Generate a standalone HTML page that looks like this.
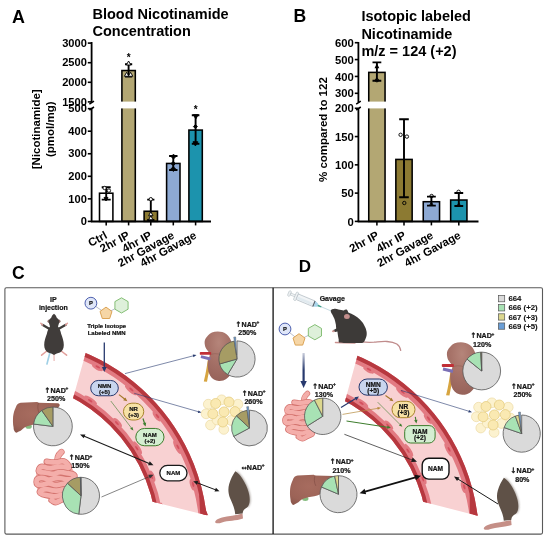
<!DOCTYPE html><html><head><meta charset="utf-8"><title>Figure</title><style>html,body{margin:0;padding:0;background:#fff}svg{display:block}</style></head><body>
<svg width="550" height="541" viewBox="0 0 550 541">
<rect width="550" height="541" fill="#fff"/>
<g id="chartA"><text x="12.0" y="22.7" font-family="Liberation Sans, Arial, sans-serif" font-weight="bold" font-size="17.9">A</text><text x="92.5" y="18.8" font-family="Liberation Sans, Arial, sans-serif" font-weight="bold" font-size="14.5">Blood Nicotinamide</text><text x="92.5" y="36.1" font-family="Liberation Sans, Arial, sans-serif" font-weight="bold" font-size="14.5">Concentration</text><rect x="99.50" y="193.21" width="13.4" height="28.19" fill="#ffffff" stroke="#000" stroke-width="1.55"/><rect x="121.90" y="70.54" width="13.4" height="150.86" fill="#b3a773" stroke="#000" stroke-width="1.55"/><rect x="120.40" y="101.6" width="16.4" height="6.8" fill="#fff"/><rect x="144.10" y="211.25" width="13.4" height="10.15" fill="#8c7a32" stroke="#000" stroke-width="1.55"/><rect x="166.60" y="163.45" width="13.4" height="57.95" fill="#8da9d3" stroke="#000" stroke-width="1.55"/><rect x="188.90" y="130.07" width="13.4" height="91.33" fill="#1c93ad" stroke="#000" stroke-width="1.55"/><path d="M106.2,187.2 V199.6 M101.7,187.2 H110.7 M101.7,199.6 H110.7" stroke="#000" stroke-width="1.9" fill="none"/><path d="M128.6,64.3 V76.6 M125.0,64.3 H132.2 M125.0,76.6 H132.2" stroke="#000" stroke-width="1.9" fill="none"/><path d="M150.8,199.6 V220 M147.20000000000002,199.6 H154.4 M147.20000000000002,220 H154.4" stroke="#000" stroke-width="1.9" fill="none"/><path d="M173.3,156.0 V170.0 M169.10000000000002,156.0 H177.5 M169.10000000000002,170.0 H177.5" stroke="#000" stroke-width="1.9" fill="none"/><path d="M195.6,115.2 V143.8 M191.79999999999998,115.2 H199.4 M191.79999999999998,143.8 H199.4" stroke="#000" stroke-width="1.9" fill="none"/><circle cx="104.6" cy="188.0" r="1.7" fill="#fff" stroke="#000" stroke-width="0.9"/><circle cx="108.9" cy="190.6" r="1.7" fill="#fff" stroke="#000" stroke-width="0.9"/><path d="M106.0,201.0 L108.0,197.4 L104.0,197.4 Z" fill="#000" stroke="#000" stroke-width="0.9"/><path d="M128.6,61.0 L130.79999999999998,64.96000000000001 L126.39999999999999,64.96000000000001 Z" fill="#fff" stroke="#000" stroke-width="0.9"/><path d="M126.6,72.3 L128.79999999999998,76.26 L124.39999999999999,76.26 Z" fill="#fff" stroke="#000" stroke-width="0.9"/><path d="M130.6,72.3 L132.79999999999998,76.26 L128.4,76.26 Z" fill="#fff" stroke="#000" stroke-width="0.9"/><circle cx="150.8" cy="199.2" r="1.7" fill="#fff" stroke="#000" stroke-width="0.9"/><path d="M150.8,211.8 L153.0,215.76 L148.60000000000002,215.76 Z" fill="#fff" stroke="#000" stroke-width="0.9"/><path d="M150.8,215.8 L153.0,219.76 L148.60000000000002,219.76 Z" fill="#fff" stroke="#000" stroke-width="0.9"/><path d="M173.5,154.2 L175.9,156.6 L173.5,159.0 L171.1,156.6 Z" fill="#000" stroke="#000" stroke-width="0.9"/><path d="M173.2,161.4 L175.39999999999998,163.6 L173.2,165.79999999999998 L171.0,163.6 Z" fill="#000" stroke="#000" stroke-width="0.9"/><path d="M173.2,166.6 L175.6,169.0 L173.2,171.4 L170.79999999999998,169.0 Z" fill="#000" stroke="#000" stroke-width="0.9"/><path d="M195.8,119.0 L198.20000000000002,114.67999999999999 L193.4,114.67999999999999 Z" fill="#000" stroke="#000" stroke-width="0.9"/><path d="M195.4,124.6 L197.4,126.6 L195.4,128.6 L193.4,126.6 Z" fill="#000" stroke="#000" stroke-width="0.9"/><path d="M195.4,146.0 L197.8,141.68 L193.0,141.68 Z" fill="#000" stroke="#000" stroke-width="0.9"/><text x="128.8" y="60.5" font-family="Liberation Sans, Arial, sans-serif" font-weight="bold" font-size="10" text-anchor="middle">*</text><text x="195.8" y="113" font-family="Liberation Sans, Arial, sans-serif" font-weight="bold" font-size="10" text-anchor="middle">*</text><path d="M91.6,42 V102.6 M91.6,108.2 V222.1" stroke="#000" stroke-width="1.8" fill="none"/><path d="M89.39999999999999,104.2 L94.0,101.2 M89.39999999999999,110.0 L94.0,107.0" stroke="#000" stroke-width="1.5" fill="none"/><path d="M90.89999999999999,221.4 H211" stroke="#000" stroke-width="2" fill="none"/><path d="M87.8,43.10 H91.6" stroke="#000" stroke-width="1.6"/><text transform="translate(86.9,46.80) scale(1.08,1)" font-family="Liberation Sans, Arial, sans-serif" font-weight="bold" font-size="10.3" text-anchor="end">3000</text><path d="M87.8,62.70 H91.6" stroke="#000" stroke-width="1.6"/><text transform="translate(86.9,66.40) scale(1.08,1)" font-family="Liberation Sans, Arial, sans-serif" font-weight="bold" font-size="10.3" text-anchor="end">2500</text><path d="M87.8,82.30 H91.6" stroke="#000" stroke-width="1.6"/><text transform="translate(86.9,86.00) scale(1.08,1)" font-family="Liberation Sans, Arial, sans-serif" font-weight="bold" font-size="10.3" text-anchor="end">2000</text><path d="M87.8,101.90 H91.6" stroke="#000" stroke-width="1.6"/><text transform="translate(86.9,105.60) scale(1.08,1)" font-family="Liberation Sans, Arial, sans-serif" font-weight="bold" font-size="10.3" text-anchor="end">1500</text><path d="M87.8,108.65 H91.6" stroke="#000" stroke-width="1.6"/><text transform="translate(86.9,112.35) scale(1.08,1)" font-family="Liberation Sans, Arial, sans-serif" font-weight="bold" font-size="10.3" text-anchor="end">500</text><path d="M87.8,131.20 H91.6" stroke="#000" stroke-width="1.6"/><text transform="translate(86.9,134.90) scale(1.08,1)" font-family="Liberation Sans, Arial, sans-serif" font-weight="bold" font-size="10.3" text-anchor="end">400</text><path d="M87.8,153.75 H91.6" stroke="#000" stroke-width="1.6"/><text transform="translate(86.9,157.45) scale(1.08,1)" font-family="Liberation Sans, Arial, sans-serif" font-weight="bold" font-size="10.3" text-anchor="end">300</text><path d="M87.8,176.30 H91.6" stroke="#000" stroke-width="1.6"/><text transform="translate(86.9,180.00) scale(1.08,1)" font-family="Liberation Sans, Arial, sans-serif" font-weight="bold" font-size="10.3" text-anchor="end">200</text><path d="M87.8,198.85 H91.6" stroke="#000" stroke-width="1.6"/><text transform="translate(86.9,202.55) scale(1.08,1)" font-family="Liberation Sans, Arial, sans-serif" font-weight="bold" font-size="10.3" text-anchor="end">100</text><path d="M87.8,221.40 H91.6" stroke="#000" stroke-width="1.6"/><text transform="translate(86.9,225.10) scale(1.08,1)" font-family="Liberation Sans, Arial, sans-serif" font-weight="bold" font-size="10.3" text-anchor="end">0</text><path d="M106.2,221.4 V225.4" stroke="#000" stroke-width="1.55"/><text transform="translate(108.0,237.70000000000002) rotate(-28.5)" font-family="Liberation Sans, Arial, sans-serif" font-weight="bold" font-size="11.4" text-anchor="end">Ctrl</text><path d="M128.6,221.4 V225.4" stroke="#000" stroke-width="1.55"/><text transform="translate(130.4,237.70000000000002) rotate(-28.5)" font-family="Liberation Sans, Arial, sans-serif" font-weight="bold" font-size="11.4" text-anchor="end">2hr IP</text><path d="M150.8,221.4 V225.4" stroke="#000" stroke-width="1.55"/><text transform="translate(152.60000000000002,237.70000000000002) rotate(-28.5)" font-family="Liberation Sans, Arial, sans-serif" font-weight="bold" font-size="11.4" text-anchor="end">4hr IP</text><path d="M173.3,221.4 V225.4" stroke="#000" stroke-width="1.55"/><text transform="translate(175.10000000000002,237.70000000000002) rotate(-28.5)" font-family="Liberation Sans, Arial, sans-serif" font-weight="bold" font-size="11.4" text-anchor="end">2hr Gavage</text><path d="M195.6,221.4 V225.4" stroke="#000" stroke-width="1.55"/><text transform="translate(197.4,237.70000000000002) rotate(-28.5)" font-family="Liberation Sans, Arial, sans-serif" font-weight="bold" font-size="11.4" text-anchor="end">4hr Gavage</text><text transform="translate(40.2,129.3) rotate(-90)" font-family="Liberation Sans, Arial, sans-serif" font-weight="bold" font-size="11.5" text-anchor="middle">[Nicotinamide]</text><text transform="translate(53.9,129.3) rotate(-90)" font-family="Liberation Sans, Arial, sans-serif" font-weight="bold" font-size="11.5" text-anchor="middle">(pmol/mg)</text></g>
<g id="chartB"><text x="293.6" y="22.4" font-family="Liberation Sans, Arial, sans-serif" font-weight="bold" font-size="17.6">B</text><text x="361.4" y="21.30" font-family="Liberation Sans, Arial, sans-serif" font-weight="bold" font-size="14.5">Isotopic labeled</text><text x="361.4" y="38.50" font-family="Liberation Sans, Arial, sans-serif" font-weight="bold" font-size="14.5">Nicotinamide</text><text x="361.4" y="55.70" font-family="Liberation Sans, Arial, sans-serif" font-weight="bold" font-size="14.5">m/z = 124 (+2)</text><rect x="368.75" y="72.39" width="16.3" height="149.01" fill="#b3a773" stroke="#000" stroke-width="1.55"/><rect x="367.25" y="101.6" width="19.3" height="6.8" fill="#fff"/><rect x="395.85" y="159.42" width="16.3" height="61.98" fill="#8c7a32" stroke="#000" stroke-width="1.55"/><rect x="423.25" y="201.72" width="16.3" height="19.68" fill="#8da9d3" stroke="#000" stroke-width="1.55"/><rect x="450.65" y="200.02" width="16.3" height="21.38" fill="#1c93ad" stroke="#000" stroke-width="1.55"/><path d="M376.9,62.4 V80.8 M372.5,62.4 H381.29999999999995 M372.5,80.8 H381.29999999999995" stroke="#000" stroke-width="1.9" fill="none"/><path d="M404.0,119.2 V197.2 M399.2,119.2 H408.8 M399.2,197.2 H408.8" stroke="#000" stroke-width="1.9" fill="none"/><path d="M431.4,196.6 V205.6 M427.0,196.6 H435.79999999999995 M427.0,205.6 H435.79999999999995" stroke="#000" stroke-width="1.9" fill="none"/><path d="M458.8,193.0 V206.0 M454.40000000000003,193.0 H463.2 M454.40000000000003,206.0 H463.2" stroke="#000" stroke-width="1.9" fill="none"/><path d="M376.9,63.4 L379.3,68.2 L374.5,68.2 Z" fill="#000"/><circle cx="376.9" cy="80.2" r="1.7" fill="none" stroke="#000" stroke-width="0.9"/><circle cx="400.6" cy="134.8" r="1.7" fill="none" stroke="#000" stroke-width="0.9"/><circle cx="406.9" cy="136.6" r="1.7" fill="none" stroke="#000" stroke-width="0.9"/><circle cx="404.3" cy="203" r="1.7" fill="none" stroke="#000" stroke-width="0.9"/><circle cx="431.6" cy="196.0" r="1.7" fill="none" stroke="#000" stroke-width="0.9"/><path d="M431.4,202.2 L433.2,205.44 L429.59999999999997,205.44 Z" fill="none" stroke="#000" stroke-width="0.9"/><circle cx="458.6" cy="191.8" r="1.7" fill="none" stroke="#000" stroke-width="0.9"/><path d="M458.8,202.79999999999998 L460.6,206.04 L457.0,206.04 Z" fill="none" stroke="#000" stroke-width="0.9"/><path d="M358.4,42 V102.6 M358.4,108.2 V222.1" stroke="#000" stroke-width="1.8" fill="none"/><path d="M356.2,104.2 L360.79999999999995,101.2 M356.2,110.0 L360.79999999999995,107.0" stroke="#000" stroke-width="1.5" fill="none"/><path d="M357.7,221.4 H478.5" stroke="#000" stroke-width="2" fill="none"/><path d="M354.79999999999995,42.70 H358.4" stroke="#000" stroke-width="1.6"/><text x="353.8" y="46.80" font-family="Liberation Sans, Arial, sans-serif" font-weight="bold" font-size="11.3" text-anchor="end">600</text><path d="M354.79999999999995,59.57 H358.4" stroke="#000" stroke-width="1.6"/><text x="353.8" y="63.67" font-family="Liberation Sans, Arial, sans-serif" font-weight="bold" font-size="11.3" text-anchor="end">500</text><path d="M354.79999999999995,76.44 H358.4" stroke="#000" stroke-width="1.6"/><text x="353.8" y="80.54" font-family="Liberation Sans, Arial, sans-serif" font-weight="bold" font-size="11.3" text-anchor="end">400</text><path d="M354.79999999999995,93.31 H358.4" stroke="#000" stroke-width="1.6"/><text x="353.8" y="97.41" font-family="Liberation Sans, Arial, sans-serif" font-weight="bold" font-size="11.3" text-anchor="end">300</text><path d="M354.79999999999995,108.30 H358.4" stroke="#000" stroke-width="1.6"/><text x="353.8" y="112.40" font-family="Liberation Sans, Arial, sans-serif" font-weight="bold" font-size="11.3" text-anchor="end">200</text><path d="M354.79999999999995,136.57 H358.4" stroke="#000" stroke-width="1.6"/><text x="353.8" y="140.67" font-family="Liberation Sans, Arial, sans-serif" font-weight="bold" font-size="11.3" text-anchor="end">150</text><path d="M354.79999999999995,164.85 H358.4" stroke="#000" stroke-width="1.6"/><text x="353.8" y="168.95" font-family="Liberation Sans, Arial, sans-serif" font-weight="bold" font-size="11.3" text-anchor="end">100</text><path d="M354.79999999999995,193.12 H358.4" stroke="#000" stroke-width="1.6"/><text x="353.8" y="197.22" font-family="Liberation Sans, Arial, sans-serif" font-weight="bold" font-size="11.3" text-anchor="end">50</text><path d="M354.79999999999995,221.40 H358.4" stroke="#000" stroke-width="1.6"/><text x="353.8" y="225.50" font-family="Liberation Sans, Arial, sans-serif" font-weight="bold" font-size="11.3" text-anchor="end">0</text><path d="M376.9,221.4 V225.4" stroke="#000" stroke-width="1.55"/><text transform="translate(379.7,237.70000000000002) rotate(-28.5)" font-family="Liberation Sans, Arial, sans-serif" font-weight="bold" font-size="11.4" text-anchor="end">2hr IP</text><path d="M404.0,221.4 V225.4" stroke="#000" stroke-width="1.55"/><text transform="translate(406.8,237.70000000000002) rotate(-28.5)" font-family="Liberation Sans, Arial, sans-serif" font-weight="bold" font-size="11.4" text-anchor="end">4hr IP</text><path d="M431.4,221.4 V225.4" stroke="#000" stroke-width="1.55"/><text transform="translate(434.2,237.70000000000002) rotate(-28.5)" font-family="Liberation Sans, Arial, sans-serif" font-weight="bold" font-size="11.4" text-anchor="end">2hr Gavage</text><path d="M458.8,221.4 V225.4" stroke="#000" stroke-width="1.55"/><text transform="translate(461.6,237.70000000000002) rotate(-28.5)" font-family="Liberation Sans, Arial, sans-serif" font-weight="bold" font-size="11.4" text-anchor="end">4hr Gavage</text><text transform="translate(327.4,129.6) rotate(-90)" font-family="Liberation Sans, Arial, sans-serif" font-weight="bold" font-size="11.5" text-anchor="middle">% compared to 122</text></g>
<g id="lower"><defs><filter id="legblur" x="-30%" y="-30%" width="160%" height="160%"><feGaussianBlur stdDeviation="0.9"/></filter></defs><text x="12.1" y="278.5" font-family="Liberation Sans, Arial, sans-serif" font-weight="bold" font-size="17.6">C</text><text x="298.7" y="272.4" font-family="Liberation Sans, Arial, sans-serif" font-weight="bold" font-size="17">D</text><clipPath id="vcc"><polygon points="89.3,339.9 263.8,339.9 263.8,519.5 223.8,519.5 135.4,497.5 105.4,457.5 89.6,440.4 69.6,410.4"/></clipPath><g clip-path="url(#vcc)" stroke="none"><path d="M-193.65,537.80 a200.60,200.60 0 1 0 401.20,0 a200.60,200.60 0 1 0 -401.20,0 Z M-163.44,539.00 a160.38,160.38 0 1 0 320.76,0 a160.38,160.38 0 1 0 -320.76,0 Z" fill="#f8d1d2" fill-rule="evenodd"/><circle cx="6.95" cy="537.80" r="196.90" fill="none" stroke="#e27a82" stroke-width="8.00"/><circle cx="-3.06" cy="539.00" r="163.78" fill="none" stroke="#e27a82" stroke-width="7.40"/><ellipse cx="63.3" cy="353.5" rx="7.5" ry="2.2" transform="rotate(17.0 63.3 353.5)" fill="#e27a82"/><ellipse cx="63.6" cy="352.7" rx="2.6" ry="1.0" transform="rotate(17.0 63.6 352.7)" fill="#d4505e"/><ellipse cx="97.4" cy="367.7" rx="6.0" ry="2.2" transform="rotate(28.0 97.4 367.7)" fill="#e27a82"/><ellipse cx="97.8" cy="366.9" rx="2.6" ry="1.0" transform="rotate(28.0 97.8 366.9)" fill="#d4505e"/><ellipse cx="130.8" cy="390.2" rx="7.5" ry="2.2" transform="rotate(40.0 130.8 390.2)" fill="#e27a82"/><ellipse cx="131.4" cy="389.5" rx="2.6" ry="1.0" transform="rotate(40.0 131.4 389.5)" fill="#d4505e"/><ellipse cx="156.7" cy="416.5" rx="6.0" ry="2.2" transform="rotate(51.0 156.7 416.5)" fill="#e27a82"/><ellipse cx="157.4" cy="416.0" rx="2.6" ry="1.0" transform="rotate(51.0 157.4 416.0)" fill="#d4505e"/><ellipse cx="177.1" cy="447.3" rx="7.5" ry="2.2" transform="rotate(62.0 177.1 447.3)" fill="#e27a82"/><ellipse cx="177.9" cy="446.9" rx="2.6" ry="1.0" transform="rotate(62.0 177.9 446.9)" fill="#d4505e"/><ellipse cx="192.2" cy="484.7" rx="6.0" ry="2.2" transform="rotate(74.0 192.2 484.7)" fill="#e27a82"/><ellipse cx="193.1" cy="484.4" rx="2.6" ry="1.0" transform="rotate(74.0 193.1 484.4)" fill="#d4505e"/><ellipse cx="198.9" cy="521.0" rx="7.5" ry="2.2" transform="rotate(85.0 198.9 521.0)" fill="#e27a82"/><ellipse cx="199.8" cy="520.9" rx="2.6" ry="1.0" transform="rotate(85.0 199.8 520.9)" fill="#d4505e"/><ellipse cx="198.9" cy="554.6" rx="6.0" ry="2.2" transform="rotate(95.0 198.9 554.6)" fill="#e27a82"/><ellipse cx="199.8" cy="554.7" rx="2.6" ry="1.0" transform="rotate(95.0 199.8 554.7)" fill="#d4505e"/><ellipse cx="59.8" cy="383.5" rx="6.0" ry="2.2" transform="rotate(22.0 59.8 383.5)" fill="#e27a82"/><ellipse cx="59.4" cy="384.4" rx="2.6" ry="1.0" transform="rotate(22.0 59.4 384.4)" fill="#d4505e"/><ellipse cx="90.7" cy="400.0" rx="7.5" ry="2.2" transform="rotate(34.0 90.7 400.0)" fill="#e27a82"/><ellipse cx="90.2" cy="400.7" rx="2.6" ry="1.0" transform="rotate(34.0 90.2 400.7)" fill="#d4505e"/><ellipse cx="117.6" cy="422.5" rx="6.0" ry="2.2" transform="rotate(46.0 117.6 422.5)" fill="#e27a82"/><ellipse cx="116.9" cy="423.1" rx="2.6" ry="1.0" transform="rotate(46.0 116.9 423.1)" fill="#d4505e"/><ellipse cx="137.6" cy="447.7" rx="7.5" ry="2.2" transform="rotate(57.0 137.6 447.7)" fill="#e27a82"/><ellipse cx="136.8" cy="448.2" rx="2.6" ry="1.0" transform="rotate(57.0 136.8 448.2)" fill="#d4505e"/><ellipse cx="152.4" cy="476.2" rx="6.0" ry="2.2" transform="rotate(68.0 152.4 476.2)" fill="#e27a82"/><ellipse cx="151.6" cy="476.5" rx="2.6" ry="1.0" transform="rotate(68.0 151.6 476.5)" fill="#d4505e"/><ellipse cx="162.1" cy="509.9" rx="7.5" ry="2.2" transform="rotate(80.0 162.1 509.9)" fill="#e27a82"/><ellipse cx="161.2" cy="510.0" rx="2.6" ry="1.0" transform="rotate(80.0 161.2 510.0)" fill="#d4505e"/><ellipse cx="164.6" cy="541.9" rx="6.0" ry="2.2" transform="rotate(91.0 164.6 541.9)" fill="#e27a82"/><ellipse cx="163.7" cy="541.9" rx="2.6" ry="1.0" transform="rotate(91.0 163.7 541.9)" fill="#d4505e"/><ellipse cx="161.5" cy="571.0" rx="7.5" ry="2.2" transform="rotate(101.0 161.5 571.0)" fill="#e27a82"/><ellipse cx="160.7" cy="570.8" rx="2.6" ry="1.0" transform="rotate(101.0 160.7 570.8)" fill="#d4505e"/><circle cx="6.95" cy="537.80" r="198.95" fill="none" stroke="#b7383f" stroke-width="3.90"/><circle cx="-3.06" cy="539.00" r="161.98" fill="none" stroke="#b7383f" stroke-width="3.80"/><polygon points="208.2,515.4 199.1,493.9 200.2,513.7" fill="#b7383f"/></g><text x="53.3" y="301.8" font-family="Liberation Sans, Arial, sans-serif" font-weight="bold" font-size="7" text-anchor="middle" fill="#151515" stroke="#151515" stroke-width="0.22">IP</text><text x="53.3" y="310.1" font-family="Liberation Sans, Arial, sans-serif" font-weight="bold" font-size="7" text-anchor="middle" fill="#151515" stroke="#151515" stroke-width="0.22">injection</text><g><line x1="49.9" y1="352.6" x2="46.8" y2="364.6" stroke="#9fd0e6" stroke-width="1.7"/><path d="M54,353.5 L54.1,361" stroke="#e2a09c" stroke-width="0.9" fill="none"/><path d="M46.8,351 L41.6,355.2 M61.2,351 L66.6,355.2" stroke="#e2a09c" stroke-width="1.5" stroke-linecap="round" fill="none"/><path d="M49.6,329 L42.4,324.8 M58.4,329 L65.8,324.8" stroke="#403c3a" stroke-width="2.2" stroke-linecap="round" fill="none"/><path d="M42.6,325 L40.8,323.2 M65.6,325 L67.4,323.2" stroke="#e2a09c" stroke-width="1.5" stroke-linecap="round" fill="none"/><circle cx="49.2" cy="321.2" r="1.7" fill="#8d6b69"/><circle cx="58.8" cy="321.2" r="1.7" fill="#8d6b69"/><path d="M54,313.8 C55.2,314.4 56.2,316 56.8,317.8 C58.4,318.8 59.4,320.6 59.2,322.6 C58.8,324.2 58.2,325.4 58.0,326.6 C59.4,328.6 60.6,331 61.2,334 C62.4,337.4 63.8,341 63.8,345 C63.8,348.6 62.4,351.2 60,352.4 C57.8,353 55.6,353.6 54,355 C52.4,353.6 50.2,353 48,352.4 C45.6,351.2 44.2,348.6 44.2,345 C44.2,341 45.6,337.4 46.8,334 C47.4,331 48.6,328.6 50,326.6 C49.8,325.4 49.2,324.2 48.8,322.6 C48.6,320.6 49.6,318.8 51.2,317.8 C51.8,316 52.8,314.4 54,313.8 Z" fill="#403c3a"/></g><line x1="90.9" y1="303.2" x2="106" y2="313.4" stroke="#9aa0b5" stroke-width="0.7"/><line x1="106" y1="313.4" x2="121.5" y2="305.4" stroke="#9aa0b5" stroke-width="0.7"/><circle cx="90.9" cy="303.2" r="5.9" fill="#dfe6f8" stroke="#3c50a6" stroke-width="0.9"/><text x="90.9" y="305.3" font-family="Liberation Sans, Arial, sans-serif" font-weight="bold" font-size="5.8" text-anchor="middle" fill="#151515" stroke="#151515" stroke-width="0.22">P</text><polygon points="106.00,307.10 111.99,311.45 109.70,318.50 102.30,318.50 100.01,311.45" fill="#f6d6a6" stroke="#d89c48" stroke-width="0.9" stroke-linejoin="round"/><polygon points="121.50,297.80 128.08,301.60 128.08,309.20 121.50,313.00 114.92,309.20 114.92,301.60" fill="#def0da" stroke="#78b868" stroke-width="0.9" stroke-linejoin="round"/><text x="106.7" y="327.8" font-family="Liberation Sans, Arial, sans-serif" font-weight="bold" font-size="6" text-anchor="middle" fill="#151515" stroke="#151515" stroke-width="0.22">Triple Isotope</text><text x="106.7" y="335.4" font-family="Liberation Sans, Arial, sans-serif" font-weight="bold" font-size="6" text-anchor="middle" fill="#151515" stroke="#151515" stroke-width="0.22">Labeled NMN</text><line x1="104.30" y1="342.50" x2="104.30" y2="368.00" stroke="#27396e" stroke-width="1.3"/><polygon points="104.30,372.00 101.90,367.00 106.70,367.00" fill="#27396e"/><line x1="125.00" y1="373.60" x2="193.79" y2="355.70" stroke="#27396e" stroke-width="0.6"/><polygon points="196.50,355.00 193.44,357.14 192.79,354.62" fill="#27396e"/><line x1="134.20" y1="393.30" x2="198.81" y2="411.83" stroke="#27396e" stroke-width="0.6"/><polygon points="201.50,412.60 197.78,412.88 198.49,410.39" fill="#27396e"/><rect x="90.70" y="380.45" width="27.6" height="15.3" rx="7.65" ry="7.65" fill="#c9d5ee" stroke="#27396e" stroke-width="1.0"/><text x="104.5" y="387.50" font-family="Liberation Sans, Arial, sans-serif" font-weight="bold" font-size="6.0" text-anchor="middle" fill="#151515" stroke="#151515" stroke-width="0.22">NMN</text><text x="104.5" y="393.70" font-family="Liberation Sans, Arial, sans-serif" font-weight="bold" font-size="6.0" text-anchor="middle" fill="#151515" stroke="#151515" stroke-width="0.22">(+5)</text><rect x="123.45" y="403.20" width="20.3" height="16.8" rx="8.4" ry="8.4" fill="#f7e2a6" stroke="#a8842c" stroke-width="1.0"/><text x="133.6" y="411.00" font-family="Liberation Sans, Arial, sans-serif" font-weight="bold" font-size="6.0" text-anchor="middle" fill="#151515" stroke="#151515" stroke-width="0.22">NR</text><text x="133.6" y="417.20" font-family="Liberation Sans, Arial, sans-serif" font-weight="bold" font-size="6.0" text-anchor="middle" fill="#151515" stroke="#151515" stroke-width="0.22">(+3)</text><rect x="135.80" y="428.45" width="28.2" height="17.3" rx="8.65" ry="8.65" fill="#d5eed2" stroke="#3d7d2d" stroke-width="1.0"/><text x="149.9" y="436.50" font-family="Liberation Sans, Arial, sans-serif" font-weight="bold" font-size="6.0" text-anchor="middle" fill="#151515" stroke="#151515" stroke-width="0.22">NAM</text><text x="149.9" y="442.70" font-family="Liberation Sans, Arial, sans-serif" font-weight="bold" font-size="6.0" text-anchor="middle" fill="#151515" stroke="#151515" stroke-width="0.22">(+2)</text><rect x="159.80" y="465.40" width="27.2" height="15.4" rx="7.7" ry="7.7" fill="#ffffff" stroke="#1a1a1a" stroke-width="1.3"/><text x="173.4" y="475.30" font-family="Liberation Sans, Arial, sans-serif" font-weight="bold" font-size="6.0" text-anchor="middle" fill="#151515" stroke="#151515" stroke-width="0.22">NAM</text><line x1="119.00" y1="394.60" x2="124.92" y2="399.31" stroke="#a3782a" stroke-width="1.2"/><polygon points="127.30,401.20 123.21,400.24 125.45,397.43" fill="#a3782a"/><line x1="143.00" y1="418.50" x2="144.67" y2="423.71" stroke="#3d7d2d" stroke-width="1.2"/><polygon points="145.60,426.60 142.72,423.53 146.15,422.43" fill="#3d7d2d"/><line x1="110.80" y1="401.00" x2="131.70" y2="428.37" stroke="#3d7d2d" stroke-width="0.6"/><polygon points="133.40,430.60 130.16,428.67 132.39,426.97" fill="#3d7d2d"/><polygon points="80.00,434.50 83.80,438.36 85.42,434.49" fill="#1a1a1a"/><line x1="83.69" y1="436.04" x2="149.81" y2="463.66" stroke="#1a1a1a" stroke-width="1.1"/><polygon points="153.50,465.20 148.08,465.21 149.70,461.34" fill="#1a1a1a"/><line x1="101.50" y1="497.00" x2="149.92" y2="476.37" stroke="#333" stroke-width="0.6"/><polygon points="153.60,474.80 149.82,478.69 148.18,474.83" fill="#333"/><polygon points="193.20,481.30 196.79,484.80 198.21,481.07" fill="#1a1a1a"/><line x1="196.64" y1="482.61" x2="216.06" y2="489.99" stroke="#1a1a1a" stroke-width="1.0"/><polygon points="219.50,491.30 214.49,491.53 215.91,487.80" fill="#1a1a1a"/><g transform="translate(13.8,401.8) scale(1.0)"><defs><radialGradient id="lgc" cx="0.42" cy="0.38" r="0.7"><stop offset="0" stop-color="#a76c5f"/><stop offset="0.7" stop-color="#9c6357"/><stop offset="1" stop-color="#8a564b"/></radialGradient></defs><ellipse cx="14.8" cy="24.6" rx="3.2" ry="2.3" fill="#86bd80"/><path d="M1.8,5.9 C3,2.6 4.5,1.2 6.9,1.0 L23.5,0.2 L24.7,1.0 L43.8,1.4 C45.6,1.6 46.4,3 45.7,4.3 C44,7 40,9 36,12 L30,20 C26,22 22,22.5 17.7,23.1 C14,24 12,25 10.7,25.7 C8.5,27.5 7,29 5,29.8 C3.5,31 2.2,31.2 1.6,30.5 C0.3,29 -0.3,27.5 -0.2,26 C-1,22 -0.9,18 -0.7,14.8 C-0.3,11 0.8,8 1.8,5.9 Z" fill="url(#lgc)"/><path d="M24.7,1.0 C23.6,4.5 23.8,8 25.5,11.5" fill="none" stroke="#7d4a41" stroke-width="0.6"/></g><path d="M52.90,426.40 L52.90,407.00 A19.4,19.4 0 1 1 33.64,424.04 Z" fill="#dadada" stroke="#555" stroke-width="0.8" stroke-linejoin="round"/><path d="M52.90,426.40 L33.64,424.04 A19.4,19.4 0 0 1 41.77,410.51 Z" fill="#a8e2b4" stroke="#555" stroke-width="0.8" stroke-linejoin="round"/><path d="M52.90,426.40 L41.77,410.51 A19.4,19.4 0 0 1 52.90,407.00 Z" fill="#a69c64" stroke="#555" stroke-width="0.8" stroke-linejoin="round"/><text x="56.2" y="392.5" font-family="Liberation Sans, Arial, sans-serif" font-weight="bold" font-size="7.1" text-anchor="middle" fill="#151515" stroke="#151515" stroke-width="0.22"><tspan font-family="DejaVu Sans, sans-serif" font-size="7.4">↑</tspan>NAD<tspan font-size="4.7" dy="-2.3" dx="-0.4">+</tspan></text><text x="56.2" y="401.10" font-family="Liberation Sans, Arial, sans-serif" font-weight="bold" font-size="7.1" text-anchor="middle" fill="#151515" stroke="#151515" stroke-width="0.22">250%</text><g transform="translate(32.6,450.4) scale(1.05)" fill="none" stroke-linecap="round" stroke-linejoin="round"><ellipse cx="22.0" cy="28.5" rx="19.5" ry="19.0" fill="#f4aeaa" stroke="none"/><path d="M24,12 C23,8 24.5,4 27.5,1.5" stroke="#d4746f" stroke-width="6"/><path d="M24,12 C23,8 24.5,4 27.5,1.5" stroke="#f4aeaa" stroke-width="4.8"/><path d="M13.4,10.7 Q13.4,10.7 17.7,11.3 Q22.0,11.8 26.3,10.5 Q30.6,9.2 33.5,13.4 Q36.4,17.6 32.8,16.3 Q29.2,15.0 25.6,15.5 Q22.0,16.1 18.4,16.7 Q14.8,17.2 11.2,15.9 Q7.6,14.6 6.1,17.9 Q4.7,21.1 8.2,20.9 Q11.6,20.7 15.1,21.8 Q18.5,23.0 22.0,21.7 Q25.5,20.3 28.9,20.9 Q32.4,21.6 35.8,22.1 Q39.3,22.6 39.9,24.0 Q40.4,25.5 37.4,26.9 Q34.3,28.2 31.2,27.4 Q28.1,26.5 25.1,26.3 Q22.0,26.1 18.9,27.2 Q15.9,28.4 12.8,27.1 Q9.7,25.7 6.6,26.4 Q3.6,27.0 3.7,30.0 Q3.8,33.0 6.9,32.9 Q9.9,32.8 12.9,31.8 Q15.9,30.9 19.0,32.3 Q22.0,33.7 25.0,32.8 Q28.1,31.9 31.1,31.7 Q34.1,31.5 37.1,32.6 Q40.2,33.8 39.3,36.3 Q38.4,38.9 35.1,37.6 Q31.8,36.2 28.6,37.3 Q25.3,38.5 22.0,38.3 Q18.7,38.2 15.4,37.2 Q12.2,36.3 8.9,37.7 Q5.6,39.1 7.5,40.6 Q9.4,42.1 12.6,42.5 Q15.7,43.0 18.9,43.6 Q22.0,44.3 25.1,43.0 Q28.3,41.6 31.4,42.8 Q34.6,43.9 30.3,45.7 Q26.0,47.6 24.0,48.8 Q22.0,50.0 20.0,48.7 L18.0,47.4" stroke="#d4746f" stroke-width="6"/><path d="M13.4,10.7 Q13.4,10.7 17.7,11.3 Q22.0,11.8 26.3,10.5 Q30.6,9.2 33.5,13.4 Q36.4,17.6 32.8,16.3 Q29.2,15.0 25.6,15.5 Q22.0,16.1 18.4,16.7 Q14.8,17.2 11.2,15.9 Q7.6,14.6 6.1,17.9 Q4.7,21.1 8.2,20.9 Q11.6,20.7 15.1,21.8 Q18.5,23.0 22.0,21.7 Q25.5,20.3 28.9,20.9 Q32.4,21.6 35.8,22.1 Q39.3,22.6 39.9,24.0 Q40.4,25.5 37.4,26.9 Q34.3,28.2 31.2,27.4 Q28.1,26.5 25.1,26.3 Q22.0,26.1 18.9,27.2 Q15.9,28.4 12.8,27.1 Q9.7,25.7 6.6,26.4 Q3.6,27.0 3.7,30.0 Q3.8,33.0 6.9,32.9 Q9.9,32.8 12.9,31.8 Q15.9,30.9 19.0,32.3 Q22.0,33.7 25.0,32.8 Q28.1,31.9 31.1,31.7 Q34.1,31.5 37.1,32.6 Q40.2,33.8 39.3,36.3 Q38.4,38.9 35.1,37.6 Q31.8,36.2 28.6,37.3 Q25.3,38.5 22.0,38.3 Q18.7,38.2 15.4,37.2 Q12.2,36.3 8.9,37.7 Q5.6,39.1 7.5,40.6 Q9.4,42.1 12.6,42.5 Q15.7,43.0 18.9,43.6 Q22.0,44.3 25.1,43.0 Q28.3,41.6 31.4,42.8 Q34.6,43.9 30.3,45.7 Q26.0,47.6 24.0,48.8 Q22.0,50.0 20.0,48.7 L18.0,47.4" stroke="#f4aeaa" stroke-width="4.5"/></g><path d="M81.00,495.80 L81.00,477.30 A18.5,18.5 0 1 1 78.75,514.16 Z" fill="#dadada" stroke="#555" stroke-width="0.8" stroke-linejoin="round"/><path d="M81.00,495.80 L78.75,514.16 A18.5,18.5 0 0 1 67.47,483.18 Z" fill="#a8e2b4" stroke="#555" stroke-width="0.8" stroke-linejoin="round"/><path d="M81.00,495.80 L67.47,483.18 A18.5,18.5 0 0 1 80.35,477.31 Z" fill="#a69c64" stroke="#555" stroke-width="0.8" stroke-linejoin="round"/><path d="M81.00,495.80 L80.35,477.31 A18.5,18.5 0 0 1 81.00,477.30 Z" fill="#6a9ed6" stroke="#555" stroke-width="0.8" stroke-linejoin="round"/><text x="80.4" y="459.8" font-family="Liberation Sans, Arial, sans-serif" font-weight="bold" font-size="7.1" text-anchor="middle" fill="#151515" stroke="#151515" stroke-width="0.22"><tspan font-family="DejaVu Sans, sans-serif" font-size="7.4">↑</tspan>NAD<tspan font-size="4.7" dy="-2.3" dx="-0.4">+</tspan></text><text x="80.4" y="468.40" font-family="Liberation Sans, Arial, sans-serif" font-weight="bold" font-size="7.1" text-anchor="middle" fill="#151515" stroke="#151515" stroke-width="0.22">150%</text><g transform="translate(199.6,332.2) scale(1.0)"><defs><radialGradient id="kgc" cx="0.5" cy="0.22" r="0.75"><stop offset="0" stop-color="#b5857a"/><stop offset="0.45" stop-color="#a8746a"/><stop offset="1" stop-color="#98645b"/></radialGradient></defs><path d="M8.4,26.4 C7.6,32 6.6,40 4.2,49.4 L7.4,49.6 C8.8,42 10.4,34 12.4,28 Z" fill="#d7a540"/><path d="M18.2,-0.6 C13.5,-0.6 10.5,1 8.6,3 C6,5.6 4.8,8 5,10.8 C5.2,13.4 5.8,15.4 6.8,16.8 C7.6,18.2 8.6,19.2 9.4,20.2 C10,21 10.3,22 10.2,22.8 C10.1,24 9.6,24.8 9.2,25.8 C8.4,28 7.9,30.6 8.1,33.7 C8.3,37.4 9,40.6 10.6,43.6 C12.6,46.8 15.6,48.6 19.4,48.8 C22.4,48.9 24.8,48.2 26.6,46.9 C28.8,45.4 30.4,43.4 31.4,40.9 C33,36 33.8,30 33.5,25 C33.8,19 33.2,13 31.4,8.4 C30.2,5.4 28.6,3.2 26.6,1.8 C24,0.2 21.4,-0.6 18.2,-0.6 Z" fill="url(#kgc)"/><path d="M10.2,22.8 C13,21.2 17,21 22,22.6" fill="none" stroke="#8c5a50" stroke-width="0.6" opacity="0.8"/><rect x="0.2" y="19.7" width="11.4" height="2.9" rx="0.9" fill="#c12f36"/><path d="M1.6,23.0 L11.0,25.2 L10.4,28.2 L1.0,25.9 Z" fill="#7b70b6"/></g><path d="M237.00,359.00 L237.00,340.90 A18.1,18.1 0 1 1 227.68,374.51 Z" fill="#dadada" stroke="#555" stroke-width="0.8" stroke-linejoin="round"/><path d="M237.00,359.00 L227.68,374.51 A18.1,18.1 0 0 1 219.60,363.99 Z" fill="#a8e2b4" stroke="#555" stroke-width="0.8" stroke-linejoin="round"/><path d="M237.00,359.00 L219.60,363.99 A18.1,18.1 0 0 1 234.17,341.12 Z" fill="#a69c64" stroke="#555" stroke-width="0.8" stroke-linejoin="round"/><path d="M236.58,355.02 L233.75,337.14 A18.1,18.1 0 0 1 235.63,336.95 Z" fill="#6a9ed6" stroke="#555" stroke-width="0.48" stroke-linejoin="round"/><text x="247.3" y="326.6" font-family="Liberation Sans, Arial, sans-serif" font-weight="bold" font-size="7.1" text-anchor="middle" fill="#151515" stroke="#151515" stroke-width="0.22"><tspan font-family="DejaVu Sans, sans-serif" font-size="7.4">↑</tspan>NAD<tspan font-size="4.7" dy="-2.3" dx="-0.4">+</tspan></text><text x="247.3" y="335.20" font-family="Liberation Sans, Arial, sans-serif" font-weight="bold" font-size="7.1" text-anchor="middle" fill="#151515" stroke="#151515" stroke-width="0.22">250%</text><circle cx="208.3" cy="404.2" r="4.9" fill="#fcf2cf" stroke="#ead59a" stroke-width="0.6"/><circle cx="221.6" cy="399.8" r="4.9" fill="#fcf2cf" stroke="#ead59a" stroke-width="0.6"/><circle cx="237.9" cy="404.2" r="4.9" fill="#fcf2cf" stroke="#ead59a" stroke-width="0.6"/><circle cx="206.1" cy="413.8" r="4.9" fill="#fcf2cf" stroke="#ead59a" stroke-width="0.6"/><circle cx="210.5" cy="425.0" r="4.9" fill="#fcf2cf" stroke="#ead59a" stroke-width="0.6"/><circle cx="223.8" cy="429.4" r="4.9" fill="#fcf2cf" stroke="#ead59a" stroke-width="0.6"/><circle cx="231.2" cy="420.5" r="4.9" fill="#fcf2cf" stroke="#ead59a" stroke-width="0.6"/><circle cx="240.0" cy="415.0" r="4.9" fill="#fcf2cf" stroke="#ead59a" stroke-width="0.6"/><circle cx="217.0" cy="420.0" r="4.9" fill="#fcf2cf" stroke="#ead59a" stroke-width="0.6"/><circle cx="215.7" cy="403.5" r="5.0" fill="#fae9b2" stroke="#e3c878" stroke-width="0.7"/><circle cx="229.0" cy="402.0" r="5.0" fill="#fae9b2" stroke="#e3c878" stroke-width="0.7"/><circle cx="212.8" cy="413.8" r="5.0" fill="#fae9b2" stroke="#e3c878" stroke-width="0.7"/><circle cx="224.1" cy="411.9" r="5.0" fill="#fae9b2" stroke="#e3c878" stroke-width="0.7"/><circle cx="222.8" cy="422.0" r="5.0" fill="#fae9b2" stroke="#e3c878" stroke-width="0.7"/><circle cx="235.0" cy="411.6" r="5.0" fill="#fae9b2" stroke="#e3c878" stroke-width="0.7"/><path d="M249.50,428.00 L249.50,410.10 A17.9,17.9 0 1 1 233.70,436.40 Z" fill="#dadada" stroke="#555" stroke-width="0.8" stroke-linejoin="round"/><path d="M249.50,428.00 L233.70,436.40 A17.9,17.9 0 0 1 236.41,415.79 Z" fill="#a8e2b4" stroke="#555" stroke-width="0.8" stroke-linejoin="round"/><path d="M249.50,428.00 L236.41,415.79 A17.9,17.9 0 0 1 247.01,410.27 Z" fill="#a69c64" stroke="#555" stroke-width="0.8" stroke-linejoin="round"/><path d="M249.19,424.51 L246.70,406.79 A17.9,17.9 0 0 1 248.57,406.62 Z" fill="#6a9ed6" stroke="#555" stroke-width="0.48" stroke-linejoin="round"/><text x="253.5" y="395.6" font-family="Liberation Sans, Arial, sans-serif" font-weight="bold" font-size="7.1" text-anchor="middle" fill="#151515" stroke="#151515" stroke-width="0.22"><tspan font-family="DejaVu Sans, sans-serif" font-size="7.4">↑</tspan>NAD<tspan font-size="4.7" dy="-2.3" dx="-0.4">+</tspan></text><text x="253.5" y="404.20" font-family="Liberation Sans, Arial, sans-serif" font-weight="bold" font-size="7.1" text-anchor="middle" fill="#151515" stroke="#151515" stroke-width="0.22">260%</text><g transform="translate(0,0)"><path d="M242.5,513.5 C236,515.5 228,516 222,517.5 C218,518.5 215,520.5 215.2,522.3 C215.6,523.8 219,523.6 222,522.4 C228,520.8 236,521 243,518.6 Z" fill="#c58f87"/><path d="M235.3,471.3 C240,474 246,483 248.5,492 C250.5,499 250,505 247,507.5 L240,500 Z" fill="#5f5147" opacity="0.55" filter="url(#legblur)" transform="translate(0.8,-0.3)"/><path d="M235.3,471.3 C240,474 246,483 248.5,492 C250.5,499 250,505 247,507.5 C244.5,509 243,510 242.6,513.5 L235.2,514.2 C234.8,508 232,503 230,498 C228,493 228,488 229.2,484 C230.5,479 233,475 235.3,471.3 Z" fill="#5f5147"/></g><text x="253" y="469.6" font-family="Liberation Sans, Arial, sans-serif" font-weight="bold" font-size="7.1" text-anchor="middle" fill="#151515" stroke="#151515" stroke-width="0.22"><tspan font-family="DejaVu Sans, sans-serif" font-size="6.4">↔</tspan>NAD<tspan font-size="4.7" dy="-2.3" dx="-0.4">+</tspan></text><clipPath id="vcd"><polygon points="361.1,342.5 533.0,342.5 533.0,519.8 493.0,519.8 406.6,497.4 376.6,457.4 360.8,446.5 340.8,416.5"/></clipPath><g clip-path="url(#vcd)" stroke="none"><path d="M77.55,540.30 a200.60,200.60 0 1 0 401.20,0 a200.60,200.60 0 1 0 -401.20,0 Z M107.76,541.50 a160.38,160.38 0 1 0 320.76,0 a160.38,160.38 0 1 0 -320.76,0 Z" fill="#f8d1d2" fill-rule="evenodd"/><circle cx="278.15" cy="540.30" r="196.90" fill="none" stroke="#e27a82" stroke-width="8.00"/><circle cx="268.14" cy="541.50" r="163.78" fill="none" stroke="#e27a82" stroke-width="7.40"/><ellipse cx="334.5" cy="356.0" rx="7.5" ry="2.2" transform="rotate(17.0 334.5 356.0)" fill="#e27a82"/><ellipse cx="334.8" cy="355.2" rx="2.6" ry="1.0" transform="rotate(17.0 334.8 355.2)" fill="#d4505e"/><ellipse cx="368.6" cy="370.2" rx="6.0" ry="2.2" transform="rotate(28.0 368.6 370.2)" fill="#e27a82"/><ellipse cx="369.0" cy="369.4" rx="2.6" ry="1.0" transform="rotate(28.0 369.0 369.4)" fill="#d4505e"/><ellipse cx="402.0" cy="392.7" rx="7.5" ry="2.2" transform="rotate(40.0 402.0 392.7)" fill="#e27a82"/><ellipse cx="402.6" cy="392.0" rx="2.6" ry="1.0" transform="rotate(40.0 402.6 392.0)" fill="#d4505e"/><ellipse cx="427.9" cy="419.0" rx="6.0" ry="2.2" transform="rotate(51.0 427.9 419.0)" fill="#e27a82"/><ellipse cx="428.6" cy="418.5" rx="2.6" ry="1.0" transform="rotate(51.0 428.6 418.5)" fill="#d4505e"/><ellipse cx="448.3" cy="449.8" rx="7.5" ry="2.2" transform="rotate(62.0 448.3 449.8)" fill="#e27a82"/><ellipse cx="449.1" cy="449.4" rx="2.6" ry="1.0" transform="rotate(62.0 449.1 449.4)" fill="#d4505e"/><ellipse cx="463.4" cy="487.2" rx="6.0" ry="2.2" transform="rotate(74.0 463.4 487.2)" fill="#e27a82"/><ellipse cx="464.3" cy="486.9" rx="2.6" ry="1.0" transform="rotate(74.0 464.3 486.9)" fill="#d4505e"/><ellipse cx="470.1" cy="523.5" rx="7.5" ry="2.2" transform="rotate(85.0 470.1 523.5)" fill="#e27a82"/><ellipse cx="471.0" cy="523.4" rx="2.6" ry="1.0" transform="rotate(85.0 471.0 523.4)" fill="#d4505e"/><ellipse cx="470.1" cy="557.1" rx="6.0" ry="2.2" transform="rotate(95.0 470.1 557.1)" fill="#e27a82"/><ellipse cx="471.0" cy="557.2" rx="2.6" ry="1.0" transform="rotate(95.0 471.0 557.2)" fill="#d4505e"/><ellipse cx="331.0" cy="386.0" rx="6.0" ry="2.2" transform="rotate(22.0 331.0 386.0)" fill="#e27a82"/><ellipse cx="330.6" cy="386.9" rx="2.6" ry="1.0" transform="rotate(22.0 330.6 386.9)" fill="#d4505e"/><ellipse cx="361.9" cy="402.5" rx="7.5" ry="2.2" transform="rotate(34.0 361.9 402.5)" fill="#e27a82"/><ellipse cx="361.4" cy="403.2" rx="2.6" ry="1.0" transform="rotate(34.0 361.4 403.2)" fill="#d4505e"/><ellipse cx="388.8" cy="425.0" rx="6.0" ry="2.2" transform="rotate(46.0 388.8 425.0)" fill="#e27a82"/><ellipse cx="388.1" cy="425.6" rx="2.6" ry="1.0" transform="rotate(46.0 388.1 425.6)" fill="#d4505e"/><ellipse cx="408.8" cy="450.2" rx="7.5" ry="2.2" transform="rotate(57.0 408.8 450.2)" fill="#e27a82"/><ellipse cx="408.0" cy="450.7" rx="2.6" ry="1.0" transform="rotate(57.0 408.0 450.7)" fill="#d4505e"/><ellipse cx="423.6" cy="478.7" rx="6.0" ry="2.2" transform="rotate(68.0 423.6 478.7)" fill="#e27a82"/><ellipse cx="422.8" cy="479.0" rx="2.6" ry="1.0" transform="rotate(68.0 422.8 479.0)" fill="#d4505e"/><ellipse cx="433.3" cy="512.4" rx="7.5" ry="2.2" transform="rotate(80.0 433.3 512.4)" fill="#e27a82"/><ellipse cx="432.4" cy="512.5" rx="2.6" ry="1.0" transform="rotate(80.0 432.4 512.5)" fill="#d4505e"/><ellipse cx="435.8" cy="544.4" rx="6.0" ry="2.2" transform="rotate(91.0 435.8 544.4)" fill="#e27a82"/><ellipse cx="434.9" cy="544.4" rx="2.6" ry="1.0" transform="rotate(91.0 434.9 544.4)" fill="#d4505e"/><ellipse cx="432.7" cy="573.5" rx="7.5" ry="2.2" transform="rotate(101.0 432.7 573.5)" fill="#e27a82"/><ellipse cx="431.9" cy="573.3" rx="2.6" ry="1.0" transform="rotate(101.0 431.9 573.3)" fill="#d4505e"/><circle cx="278.15" cy="540.30" r="198.95" fill="none" stroke="#b7383f" stroke-width="3.90"/><circle cx="268.14" cy="541.50" r="161.98" fill="none" stroke="#b7383f" stroke-width="3.80"/><polygon points="477.8,515.6 469.7,494.0 469.8,513.8" fill="#b7383f"/></g><g transform="translate(289.4,293.5) rotate(22.7)"><rect x="-1.1" y="-2.8" width="2.4" height="5.6" rx="1.1" fill="#eef1f3" stroke="#a9b4bb" stroke-width="0.5"/><rect x="1.3" y="-1.0" width="5.2" height="2.0" fill="#f2f4f5" stroke="#a9b4bb" stroke-width="0.45"/><rect x="6.0" y="-4.4" width="2.6" height="8.8" rx="1.2" fill="#eef1f3" stroke="#a9b4bb" stroke-width="0.5"/><rect x="8.4" y="-3.0" width="18.6" height="6.0" rx="0.8" fill="#f1f4f6" stroke="#a9b4bb" stroke-width="0.6"/><rect x="9.2" y="-0.4" width="16.5" height="2.6" fill="#dfe9ee" opacity="0.9"/><rect x="26.0" y="-3.0" width="1.3" height="6.0" fill="#5b6670"/><path d="M27.3,-2.9 L30.6,-1.6 L30.6,1.6 L27.3,2.9 Z" fill="#a8d4ea"/><path d="M30.6,-1.0 L34.8,-0.55 L34.8,0.55 L30.6,1.0 Z" fill="#3f9f8a"/><line x1="34.8" y1="0" x2="45.2" y2="0" stroke="#a9c9d4" stroke-width="0.6"/></g><text x="332.3" y="300.7" font-family="Liberation Sans, Arial, sans-serif" font-weight="bold" font-size="7" text-anchor="middle" fill="#151515" stroke="#151515" stroke-width="0.22">Gavage</text><g><path d="M362,341.9 C366,342.4 370,342.4 374,342.2 C379,341.8 383,341.2 387,341.5 C391,341.8 394.4,342.6 396.8,344 C399,345.4 400.2,347.6 400.7,350.4" fill="none" stroke="#c08c8c" stroke-width="1.3" stroke-linecap="round"/><path d="M335.4,342.5 L355,343.1" stroke="#c9908e" stroke-width="1.3" stroke-linecap="round"/><path d="M330.8,310.2 C331.6,309.2 332.6,308.8 333.8,308.9 C335.4,308.6 337,308.9 338.4,309.4 C340.2,309.6 342.2,310 343.8,310.5 C344.8,309.6 346.2,309.3 347.2,309.9 C347.8,310.6 348,311.6 348.3,312.4 C350.4,313.2 352.4,314.2 354.2,315.3 C356.4,316.6 358.4,318 359.9,319.6 C361.8,321.4 363.2,323.4 364.3,325.5 C365.4,327.4 366.1,329.3 366.5,331.3 C366.9,333.3 366.8,335.3 366.2,337.1 C365.7,338.7 365.1,340.2 364.3,341.5 C363.7,342.3 362.9,342.8 362.1,342.9 L348,343 C344.6,343.1 341.6,343 339.6,342.6 C338.6,342.2 338.4,341.2 338.8,340 C338.6,338.6 338.3,337.4 338.1,336.4 C337.8,334.6 337.6,333 337.4,331.6 C336,332 334.4,332.1 333.2,331.6 C332.6,330.8 333.4,330 334.6,329.6 C335.2,329.2 335.8,328.8 336.2,328.4 C336.1,327.2 336,326 335.9,324.7 C335.5,322.7 335,320.8 334.5,318.9 C333.8,317.4 333,316 332.3,314.5 C331.4,313.2 330.6,311.8 330.8,310.2 Z" fill="#3d3a38"/><ellipse cx="346.9" cy="316.6" rx="2.9" ry="2.5" fill="#c48e8c"/><ellipse cx="333.4" cy="331.2" rx="1.5" ry="1.0" fill="#d09a98"/></g><line x1="285.0" y1="329.0" x2="299" y2="340" stroke="#9aa0b5" stroke-width="0.7"/><line x1="299" y1="340" x2="314.9" y2="332.2" stroke="#9aa0b5" stroke-width="0.7"/><circle cx="285.0" cy="329.0" r="5.9" fill="#dfe6f8" stroke="#3c50a6" stroke-width="0.9"/><text x="285.0" y="331.1" font-family="Liberation Sans, Arial, sans-serif" font-weight="bold" font-size="5.8" text-anchor="middle" fill="#151515" stroke="#151515" stroke-width="0.22">P</text><polygon points="299.00,333.70 304.99,338.05 302.70,345.10 295.30,345.10 293.01,338.05" fill="#f6d6a6" stroke="#d89c48" stroke-width="0.9" stroke-linejoin="round"/><polygon points="314.90,324.60 321.48,328.40 321.48,336.00 314.90,339.80 308.32,336.00 308.32,328.40" fill="#def0da" stroke="#78b868" stroke-width="0.9" stroke-linejoin="round"/><defs><linearGradient id="ng" x1="0" y1="0" x2="0" y2="1"><stop offset="0" stop-color="#27396e" stop-opacity="0.25"/><stop offset="0.6" stop-color="#27396e"/></linearGradient></defs><rect x="302.5" y="353" width="2.2" height="29" fill="url(#ng)"/><polygon points="303.6,388 300.4,381 306.8,381" fill="#27396e"/><g transform="translate(281.5,392.2) scale(0.94)" fill="none" stroke-linecap="round" stroke-linejoin="round"><ellipse cx="22.0" cy="28.5" rx="19.5" ry="19.0" fill="#f4aeaa" stroke="none"/><path d="M24,12 C23,8 24.5,4 27.5,1.5" stroke="#d4746f" stroke-width="6"/><path d="M24,12 C23,8 24.5,4 27.5,1.5" stroke="#f4aeaa" stroke-width="4.8"/><path d="M13.4,10.7 Q13.4,10.7 17.7,11.3 Q22.0,11.8 26.3,10.5 Q30.6,9.2 33.5,13.4 Q36.4,17.6 32.8,16.3 Q29.2,15.0 25.6,15.5 Q22.0,16.1 18.4,16.7 Q14.8,17.2 11.2,15.9 Q7.6,14.6 6.1,17.9 Q4.7,21.1 8.2,20.9 Q11.6,20.7 15.1,21.8 Q18.5,23.0 22.0,21.7 Q25.5,20.3 28.9,20.9 Q32.4,21.6 35.8,22.1 Q39.3,22.6 39.9,24.0 Q40.4,25.5 37.4,26.9 Q34.3,28.2 31.2,27.4 Q28.1,26.5 25.1,26.3 Q22.0,26.1 18.9,27.2 Q15.9,28.4 12.8,27.1 Q9.7,25.7 6.6,26.4 Q3.6,27.0 3.7,30.0 Q3.8,33.0 6.9,32.9 Q9.9,32.8 12.9,31.8 Q15.9,30.9 19.0,32.3 Q22.0,33.7 25.0,32.8 Q28.1,31.9 31.1,31.7 Q34.1,31.5 37.1,32.6 Q40.2,33.8 39.3,36.3 Q38.4,38.9 35.1,37.6 Q31.8,36.2 28.6,37.3 Q25.3,38.5 22.0,38.3 Q18.7,38.2 15.4,37.2 Q12.2,36.3 8.9,37.7 Q5.6,39.1 7.5,40.6 Q9.4,42.1 12.6,42.5 Q15.7,43.0 18.9,43.6 Q22.0,44.3 25.1,43.0 Q28.3,41.6 31.4,42.8 Q34.6,43.9 30.3,45.7 Q26.0,47.6 24.0,48.8 Q22.0,50.0 20.0,48.7 L18.0,47.4" stroke="#d4746f" stroke-width="6"/><path d="M13.4,10.7 Q13.4,10.7 17.7,11.3 Q22.0,11.8 26.3,10.5 Q30.6,9.2 33.5,13.4 Q36.4,17.6 32.8,16.3 Q29.2,15.0 25.6,15.5 Q22.0,16.1 18.4,16.7 Q14.8,17.2 11.2,15.9 Q7.6,14.6 6.1,17.9 Q4.7,21.1 8.2,20.9 Q11.6,20.7 15.1,21.8 Q18.5,23.0 22.0,21.7 Q25.5,20.3 28.9,20.9 Q32.4,21.6 35.8,22.1 Q39.3,22.6 39.9,24.0 Q40.4,25.5 37.4,26.9 Q34.3,28.2 31.2,27.4 Q28.1,26.5 25.1,26.3 Q22.0,26.1 18.9,27.2 Q15.9,28.4 12.8,27.1 Q9.7,25.7 6.6,26.4 Q3.6,27.0 3.7,30.0 Q3.8,33.0 6.9,32.9 Q9.9,32.8 12.9,31.8 Q15.9,30.9 19.0,32.3 Q22.0,33.7 25.0,32.8 Q28.1,31.9 31.1,31.7 Q34.1,31.5 37.1,32.6 Q40.2,33.8 39.3,36.3 Q38.4,38.9 35.1,37.6 Q31.8,36.2 28.6,37.3 Q25.3,38.5 22.0,38.3 Q18.7,38.2 15.4,37.2 Q12.2,36.3 8.9,37.7 Q5.6,39.1 7.5,40.6 Q9.4,42.1 12.6,42.5 Q15.7,43.0 18.9,43.6 Q22.0,44.3 25.1,43.0 Q28.3,41.6 31.4,42.8 Q34.6,43.9 30.3,45.7 Q26.0,47.6 24.0,48.8 Q22.0,50.0 20.0,48.7 L18.0,47.4" stroke="#f4aeaa" stroke-width="4.5"/></g><path d="M322.70,416.30 L322.70,398.10 A18.2,18.2 0 1 1 307.27,425.94 Z" fill="#dadada" stroke="#555" stroke-width="0.8" stroke-linejoin="round"/><path d="M322.70,416.30 L307.27,425.94 A18.2,18.2 0 0 1 314.44,400.08 Z" fill="#a8e2b4" stroke="#555" stroke-width="0.8" stroke-linejoin="round"/><path d="M322.70,416.30 L314.44,400.08 A18.2,18.2 0 0 1 322.70,398.10 Z" fill="#dcd78e" stroke="#555" stroke-width="0.8" stroke-linejoin="round"/><text x="323.9" y="388.7" font-family="Liberation Sans, Arial, sans-serif" font-weight="bold" font-size="7.1" text-anchor="middle" fill="#151515" stroke="#151515" stroke-width="0.22"><tspan font-family="DejaVu Sans, sans-serif" font-size="7.4">↑</tspan>NAD<tspan font-size="4.7" dy="-2.3" dx="-0.4">+</tspan></text><text x="323.9" y="397.30" font-family="Liberation Sans, Arial, sans-serif" font-weight="bold" font-size="7.1" text-anchor="middle" fill="#151515" stroke="#151515" stroke-width="0.22">130%</text><line x1="341.00" y1="407.40" x2="356.12" y2="398.33" stroke="#27396e" stroke-width="1.2"/><polygon points="359.00,396.60 356.38,400.39 354.42,397.13" fill="#27396e"/><line x1="342.50" y1="414.40" x2="378.24" y2="408.27" stroke="#b58a3c" stroke-width="0.7"/><polygon points="381.00,407.80 377.79,409.77 377.31,407.01" fill="#b58a3c"/><line x1="346.50" y1="421.00" x2="387.99" y2="427.34" stroke="#3d7d2d" stroke-width="1.0"/><polygon points="391.00,427.80 387.00,428.81 387.49,425.64" fill="#3d7d2d"/><line x1="344.40" y1="434.30" x2="412.89" y2="460.24" stroke="#1a1a1a" stroke-width="0.7"/><polygon points="417.00,461.80 411.01,462.10 412.71,457.61" fill="#1a1a1a"/><polygon points="359.60,493.20 366.14,494.26 364.61,488.87" fill="#111"/><line x1="364.22" y1="491.89" x2="416.38" y2="477.11" stroke="#111" stroke-width="1.6"/><polygon points="421.00,475.80 415.99,480.13 414.46,474.74" fill="#111"/><line x1="498.00" y1="504.00" x2="457.40" y2="478.71" stroke="#1a1a1a" stroke-width="1.0"/><polygon points="454.00,476.60 459.41,477.38 457.08,481.11" fill="#1a1a1a"/><line x1="401.00" y1="390.40" x2="469.32" y2="411.38" stroke="#27396e" stroke-width="0.6"/><polygon points="472.00,412.20 468.27,412.42 469.04,409.93" fill="#27396e"/><rect x="359.00" y="379.00" width="28.4" height="16.2" rx="8.1" ry="8.1" fill="#c9d5ee" stroke="#27396e" stroke-width="1.0"/><text x="373.2" y="386.50" font-family="Liberation Sans, Arial, sans-serif" font-weight="bold" font-size="6.6" text-anchor="middle" fill="#151515" stroke="#151515" stroke-width="0.22">NMN</text><text x="373.2" y="392.70" font-family="Liberation Sans, Arial, sans-serif" font-weight="bold" font-size="6.6" text-anchor="middle" fill="#151515" stroke="#151515" stroke-width="0.22">(+5)</text><rect x="392.00" y="401.30" width="23" height="16.4" rx="8.2" ry="8.2" fill="#f7e2a6" stroke="#a8842c" stroke-width="1.0"/><text x="403.5" y="408.90" font-family="Liberation Sans, Arial, sans-serif" font-weight="bold" font-size="6.6" text-anchor="middle" fill="#151515" stroke="#151515" stroke-width="0.22">NR</text><text x="403.5" y="415.10" font-family="Liberation Sans, Arial, sans-serif" font-weight="bold" font-size="6.6" text-anchor="middle" fill="#151515" stroke="#151515" stroke-width="0.22">(+3)</text><rect x="404.70" y="425.60" width="30.4" height="17.4" rx="6" ry="6" fill="#d5eed2" stroke="#3d7d2d" stroke-width="1.0"/><text x="419.9" y="433.70" font-family="Liberation Sans, Arial, sans-serif" font-weight="bold" font-size="6.6" text-anchor="middle" fill="#151515" stroke="#151515" stroke-width="0.22">NAM</text><text x="419.9" y="439.90" font-family="Liberation Sans, Arial, sans-serif" font-weight="bold" font-size="6.6" text-anchor="middle" fill="#151515" stroke="#151515" stroke-width="0.22">(+2)</text><rect x="422.20" y="458.30" width="26.8" height="20.8" rx="6.5" ry="6.5" fill="#ffffff" stroke="#111" stroke-width="1.4"/><text x="435.6" y="470.90" font-family="Liberation Sans, Arial, sans-serif" font-weight="bold" font-size="6.6" text-anchor="middle" fill="#151515" stroke="#151515" stroke-width="0.22">NAM</text><line x1="385.50" y1="395.50" x2="391.06" y2="399.51" stroke="#a3782a" stroke-width="1.1"/><polygon points="393.40,401.20 389.49,400.47 391.48,397.71" fill="#a3782a"/><line x1="415.30" y1="416.80" x2="415.94" y2="420.76" stroke="#3d7d2d" stroke-width="1.1"/><polygon points="416.40,423.60 414.15,420.32 417.50,419.77" fill="#3d7d2d"/><line x1="377.70" y1="402.20" x2="400.38" y2="424.88" stroke="#3d7d2d" stroke-width="0.6"/><polygon points="402.30,426.80 398.91,425.39 400.89,423.41" fill="#3d7d2d"/><g transform="translate(290.8,474.6) scale(0.98)"><defs><radialGradient id="lgd" cx="0.42" cy="0.38" r="0.7"><stop offset="0" stop-color="#a76c5f"/><stop offset="0.7" stop-color="#9c6357"/><stop offset="1" stop-color="#8a564b"/></radialGradient></defs><ellipse cx="14.8" cy="24.6" rx="3.2" ry="2.3" fill="#86bd80"/><path d="M1.8,5.9 C3,2.6 4.5,1.2 6.9,1.0 L23.5,0.2 L24.7,1.0 L43.8,1.4 C45.6,1.6 46.4,3 45.7,4.3 C44,7 40,9 36,12 L30,20 C26,22 22,22.5 17.7,23.1 C14,24 12,25 10.7,25.7 C8.5,27.5 7,29 5,29.8 C3.5,31 2.2,31.2 1.6,30.5 C0.3,29 -0.3,27.5 -0.2,26 C-1,22 -0.9,18 -0.7,14.8 C-0.3,11 0.8,8 1.8,5.9 Z" fill="url(#lgd)"/><path d="M24.7,1.0 C23.6,4.5 23.8,8 25.5,11.5" fill="none" stroke="#7d4a41" stroke-width="0.6"/></g><path d="M338.50,494.20 L338.50,475.70 A18.5,18.5 0 1 1 321.47,486.97 Z" fill="#dadada" stroke="#555" stroke-width="0.8" stroke-linejoin="round"/><path d="M338.50,494.20 L321.47,486.97 A18.5,18.5 0 0 1 334.65,476.10 Z" fill="#a8e2b4" stroke="#555" stroke-width="0.8" stroke-linejoin="round"/><path d="M338.50,494.20 L334.65,476.10 A18.5,18.5 0 0 1 338.50,475.70 Z" fill="#dcd78e" stroke="#555" stroke-width="0.8" stroke-linejoin="round"/><text x="341.5" y="464.4" font-family="Liberation Sans, Arial, sans-serif" font-weight="bold" font-size="7.1" text-anchor="middle" fill="#151515" stroke="#151515" stroke-width="0.22"><tspan font-family="DejaVu Sans, sans-serif" font-size="7.4">↑</tspan>NAD<tspan font-size="4.7" dy="-2.3" dx="-0.4">+</tspan></text><text x="341.5" y="473.00" font-family="Liberation Sans, Arial, sans-serif" font-weight="bold" font-size="7.1" text-anchor="middle" fill="#151515" stroke="#151515" stroke-width="0.22">210%</text><g transform="translate(441.6,343.0) scale(1.06)"><defs><radialGradient id="kgd" cx="0.5" cy="0.22" r="0.75"><stop offset="0" stop-color="#b5857a"/><stop offset="0.45" stop-color="#a8746a"/><stop offset="1" stop-color="#98645b"/></radialGradient></defs><path d="M8.4,26.4 C7.6,32 6.6,40 4.2,49.4 L7.4,49.6 C8.8,42 10.4,34 12.4,28 Z" fill="#d7a540"/><path d="M18.2,-0.6 C13.5,-0.6 10.5,1 8.6,3 C6,5.6 4.8,8 5,10.8 C5.2,13.4 5.8,15.4 6.8,16.8 C7.6,18.2 8.6,19.2 9.4,20.2 C10,21 10.3,22 10.2,22.8 C10.1,24 9.6,24.8 9.2,25.8 C8.4,28 7.9,30.6 8.1,33.7 C8.3,37.4 9,40.6 10.6,43.6 C12.6,46.8 15.6,48.6 19.4,48.8 C22.4,48.9 24.8,48.2 26.6,46.9 C28.8,45.4 30.4,43.4 31.4,40.9 C33,36 33.8,30 33.5,25 C33.8,19 33.2,13 31.4,8.4 C30.2,5.4 28.6,3.2 26.6,1.8 C24,0.2 21.4,-0.6 18.2,-0.6 Z" fill="url(#kgd)"/><path d="M10.2,22.8 C13,21.2 17,21 22,22.6" fill="none" stroke="#8c5a50" stroke-width="0.6" opacity="0.8"/><rect x="0.2" y="19.7" width="11.4" height="2.9" rx="0.9" fill="#c12f36"/><path d="M1.6,23.0 L11.0,25.2 L10.4,28.2 L1.0,25.9 Z" fill="#7b70b6"/></g><path d="M481.70,371.00 L481.70,352.10 A18.9,18.9 0 1 1 467.01,359.11 Z" fill="#dadada" stroke="#555" stroke-width="0.8" stroke-linejoin="round"/><path d="M481.70,371.00 L467.01,359.11 A18.9,18.9 0 0 1 480.71,352.13 Z" fill="#a8e2b4" stroke="#555" stroke-width="0.8" stroke-linejoin="round"/><path d="M481.70,371.00 L480.71,352.13 A18.9,18.9 0 0 1 481.70,352.10 Z" fill="#a69c64" stroke="#555" stroke-width="0.8" stroke-linejoin="round"/><text x="482.2" y="338.4" font-family="Liberation Sans, Arial, sans-serif" font-weight="bold" font-size="7.1" text-anchor="middle" fill="#151515" stroke="#151515" stroke-width="0.22"><tspan font-family="DejaVu Sans, sans-serif" font-size="7.4">↑</tspan>NAD<tspan font-size="4.7" dy="-2.3" dx="-0.4">+</tspan></text><text x="482.2" y="347.00" font-family="Liberation Sans, Arial, sans-serif" font-weight="bold" font-size="7.1" text-anchor="middle" fill="#151515" stroke="#151515" stroke-width="0.22">120%</text><circle cx="478.6" cy="407.2" r="4.9" fill="#fcf2cf" stroke="#ead59a" stroke-width="0.6"/><circle cx="491.9" cy="402.8" r="4.9" fill="#fcf2cf" stroke="#ead59a" stroke-width="0.6"/><circle cx="508.2" cy="407.2" r="4.9" fill="#fcf2cf" stroke="#ead59a" stroke-width="0.6"/><circle cx="476.4" cy="416.8" r="4.9" fill="#fcf2cf" stroke="#ead59a" stroke-width="0.6"/><circle cx="480.8" cy="428.0" r="4.9" fill="#fcf2cf" stroke="#ead59a" stroke-width="0.6"/><circle cx="494.1" cy="432.4" r="4.9" fill="#fcf2cf" stroke="#ead59a" stroke-width="0.6"/><circle cx="501.5" cy="423.5" r="4.9" fill="#fcf2cf" stroke="#ead59a" stroke-width="0.6"/><circle cx="510.3" cy="418.0" r="4.9" fill="#fcf2cf" stroke="#ead59a" stroke-width="0.6"/><circle cx="487.3" cy="423.0" r="4.9" fill="#fcf2cf" stroke="#ead59a" stroke-width="0.6"/><circle cx="486.0" cy="406.5" r="5.0" fill="#fae9b2" stroke="#e3c878" stroke-width="0.7"/><circle cx="499.3" cy="405.0" r="5.0" fill="#fae9b2" stroke="#e3c878" stroke-width="0.7"/><circle cx="483.1" cy="416.8" r="5.0" fill="#fae9b2" stroke="#e3c878" stroke-width="0.7"/><circle cx="494.4" cy="414.9" r="5.0" fill="#fae9b2" stroke="#e3c878" stroke-width="0.7"/><circle cx="493.1" cy="425.0" r="5.0" fill="#fae9b2" stroke="#e3c878" stroke-width="0.7"/><circle cx="505.3" cy="414.6" r="5.0" fill="#fae9b2" stroke="#e3c878" stroke-width="0.7"/><path d="M521.70,433.60 L521.70,415.00 A18.6,18.6 0 1 1 504.11,427.54 Z" fill="#dadada" stroke="#555" stroke-width="0.8" stroke-linejoin="round"/><path d="M521.70,433.60 L504.11,427.54 A18.6,18.6 0 0 1 515.34,416.12 Z" fill="#a8e2b4" stroke="#555" stroke-width="0.8" stroke-linejoin="round"/><path d="M521.70,433.60 L515.34,416.12 A18.6,18.6 0 0 1 518.79,415.23 Z" fill="#dcd78e" stroke="#555" stroke-width="0.8" stroke-linejoin="round"/><path d="M521.39,430.62 L518.48,412.25 A18.6,18.6 0 0 1 520.41,412.04 Z" fill="#6a9ed6" stroke="#555" stroke-width="0.48" stroke-linejoin="round"/><text x="522.6" y="388.6" font-family="Liberation Sans, Arial, sans-serif" font-weight="bold" font-size="7.1" text-anchor="middle" fill="#151515" stroke="#151515" stroke-width="0.22"><tspan font-family="DejaVu Sans, sans-serif" font-size="7.4">↑</tspan>NAD<tspan font-size="4.7" dy="-2.3" dx="-0.4">+</tspan></text><text x="522.6" y="397.20" font-family="Liberation Sans, Arial, sans-serif" font-weight="bold" font-size="7.1" text-anchor="middle" fill="#151515" stroke="#151515" stroke-width="0.22">250%</text><g transform="translate(268.6,6.5)"><path d="M242.5,513.5 C236,515.5 228,516 222,517.5 C218,518.5 215,520.5 215.2,522.3 C215.6,523.8 219,523.6 222,522.4 C228,520.8 236,521 243,518.6 Z" fill="#c58f87"/><path d="M235.3,471.3 C240,474 246,483 248.5,492 C250.5,499 250,505 247,507.5 L240,500 Z" fill="#5f5147" opacity="0.55" filter="url(#legblur)" transform="translate(0.8,-0.3)"/><path d="M235.3,471.3 C240,474 246,483 248.5,492 C250.5,499 250,505 247,507.5 C244.5,509 243,510 242.6,513.5 L235.2,514.2 C234.8,508 232,503 230,498 C228,493 228,488 229.2,484 C230.5,479 233,475 235.3,471.3 Z" fill="#5f5147"/></g><text x="522.3" y="472.9" font-family="Liberation Sans, Arial, sans-serif" font-weight="bold" font-size="7.1" text-anchor="middle" fill="#151515" stroke="#151515" stroke-width="0.22"><tspan font-family="DejaVu Sans, sans-serif" font-size="7.4">↓</tspan>NAD<tspan font-size="4.7" dy="-2.3" dx="-0.4">+</tspan></text><text x="522.3" y="481.50" font-family="Liberation Sans, Arial, sans-serif" font-weight="bold" font-size="7.1" text-anchor="middle" fill="#151515" stroke="#151515" stroke-width="0.22">80%</text><rect x="498.4" y="295.50" width="6.3" height="6.3" fill="#dadada" stroke="#555" stroke-width="0.7"/><text x="508.4" y="301.20" font-family="Liberation Sans, Arial, sans-serif" font-weight="bold" font-size="7.8" fill="#151515" stroke="#151515" stroke-width="0.12">664</text><rect x="498.4" y="304.65" width="6.3" height="6.3" fill="#a8e2b4" stroke="#555" stroke-width="0.7"/><text x="508.4" y="310.35" font-family="Liberation Sans, Arial, sans-serif" font-weight="bold" font-size="7.8" fill="#151515" stroke="#151515" stroke-width="0.12">666 (+2)</text><rect x="498.4" y="313.80" width="6.3" height="6.3" fill="#dcd78e" stroke="#555" stroke-width="0.7"/><text x="508.4" y="319.50" font-family="Liberation Sans, Arial, sans-serif" font-weight="bold" font-size="7.8" fill="#151515" stroke="#151515" stroke-width="0.12">667 (+3)</text><rect x="498.4" y="322.95" width="6.3" height="6.3" fill="#6a9ed6" stroke="#555" stroke-width="0.7"/><text x="508.4" y="328.65" font-family="Liberation Sans, Arial, sans-serif" font-weight="bold" font-size="7.8" fill="#151515" stroke="#151515" stroke-width="0.12">669 (+5)</text><rect x="4.9" y="287.8" width="537.6" height="246.3" rx="1.5" fill="none" stroke="#5a5a5a" stroke-width="1.1"/><line x1="273.1" y1="287.7" x2="273.1" y2="534.1" stroke="#111" stroke-width="1.3"/></g>
</svg></body></html>
